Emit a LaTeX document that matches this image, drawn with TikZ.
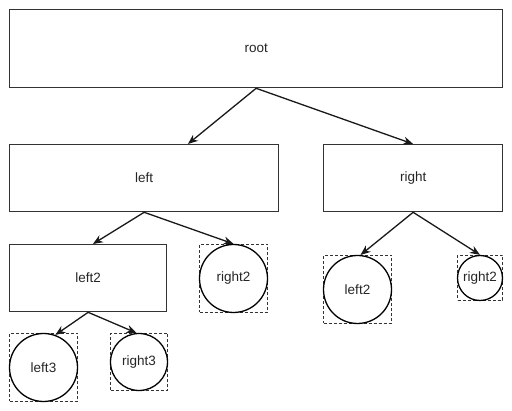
\documentclass[tikz,border=0pt]{standalone}
\usepackage{fontspec}
\setmainfont{Liberation Sans}
\usetikzlibrary{arrows.meta,calc}
\begin{document}
\begin{tikzpicture}[x=1pt,y=-1pt,
  every node/.style={font=\fontsize{13.5}{16}\selectfont, text=black!85},
  box/.style={draw=black!80, line width=1.3pt, minimum width=#1, inner sep=0pt, anchor=north west},
  circ/.style={draw=black, line width=1.3pt, circle, inner sep=0pt, minimum size=#1},
  frame/.style={draw=black!80, dash pattern=on 3pt off 2pt, line width=1pt, inner sep=0pt, anchor=north west},
  edge/.style={-{Stealth[length=10pt,width=8pt]}, line width=1.3pt, black!90}]
\useasboundingbox (0,0) rectangle (512,411);
\fill[white] (0,0) rectangle (512,411);
% boxes
\node[box=493pt, minimum height=78pt] (root) at (9,9) {};
\node at (root.center) {root};
\node[box=269pt, minimum height=67pt] (left) at (9,144) {};
\node at (left.center) {left};
\node[box=179pt, minimum height=67pt] (right) at (323,144) {};
\node at (right.center) {right};
\node[box=157pt, minimum height=67pt] (lefttwo) at (9,244) {};
\node at (lefttwo.center) {left2};
% dashed frames
\node[frame, minimum width=68pt, minimum height=68pt] (frA) at (199,244) {};
\node[frame, minimum width=68pt, minimum height=68pt] (frB) at (9,333) {};
\node[frame, minimum width=57pt, minimum height=57pt] (frC) at (110,333) {};
\node[frame, minimum width=68pt, minimum height=68pt] (frD) at (323,255) {};
\node[frame, minimum width=45pt, minimum height=45pt] (frE) at (457,255) {};
% circles
\node[circ=68pt] (righttwo) at (frA.center) {right2};
\node[circ=68pt] (leftthree) at (frB.center) {left3};
\node[circ=57pt] (rightthree) at (frC.center) {right3};
\node[circ=68pt] (rlefttwo) at (frD.center) {left2};
\node[circ=45pt] (rrighttwo) at (frE.center) {right2};
% edges
\coordinate (lefttop) at ($(left.north west)!0.662!(left.north east)$);
\coordinate (ltwotop) at ($(lefttwo.north west)!0.53!(lefttwo.north east)$);
\draw[edge] (root.south) -- (lefttop);
\draw[edge] (root.south) -- (right.north);
\draw[edge] (left.south) -- (ltwotop);
\draw[edge] (left.south) -- (righttwo.north);
\draw[edge] (lefttwo.south) -- (leftthree.70);
\draw[edge] (lefttwo.south) -- (rightthree.95);
\draw[edge] (right.south) -- (rlefttwo.85);
\draw[edge] (right.south) -- (rrighttwo.north);
\end{tikzpicture}
\end{document}
